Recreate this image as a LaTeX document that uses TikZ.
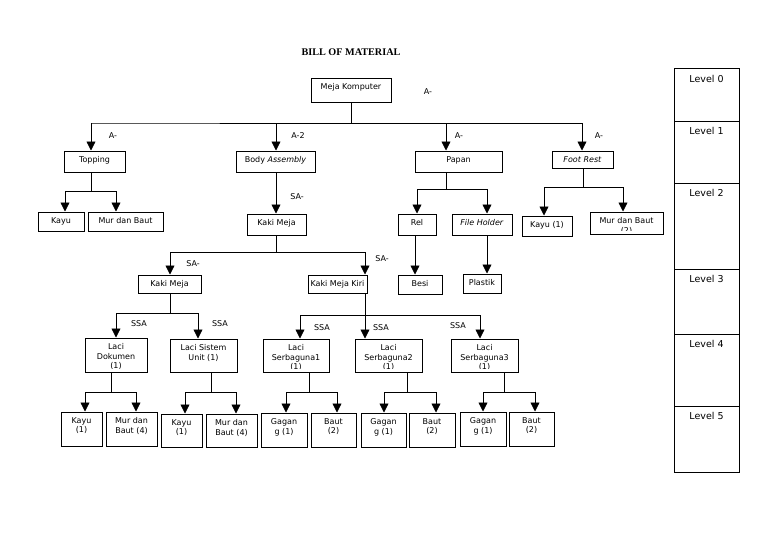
\documentclass[tikz,border=0pt]{standalone}
\usepackage{fontspec}
\setmainfont{DejaVu Sans}
\newfontfamily\titlefont{Liberation Serif}
\usetikzlibrary{arrows.meta}
\begin{document}
\begin{tikzpicture}[x=1pt,y=-1pt,
  partbox/.style={draw,line width=1pt,inner sep=0pt},
  parttext/.style={draw=none,anchor=north,inner sep=0pt,minimum width=0pt,minimum height=0pt,
    align=center,font=\fontsize{8}{9.6}\selectfont},
  leveltext/.style={anchor=north,inner sep=0pt,font=\fontsize{9.5}{11}\selectfont},
  tag/.style={inner sep=0pt,font=\fontsize{8}{9.6}\selectfont},
  link/.style={line width=0.8pt},
  arr/.style={line width=0.8pt,-{Triangle[width=9pt,length=9pt]}}]%
% bill of material tree, page units in px, y grows downwards
\def\bompart#1#2#3#4#5#6{\node[partbox,minimum width={(#4-#2)*1pt},minimum height={(#5-#3)*1pt},
 path picture={\clip ([yshift=3.5pt]path picture bounding box.south west)
  rectangle (path picture bounding box.north east);
  \node[parttext] (#1-t) at ([yshift=-5pt]path picture bounding box.north) {#6};}]
 (#1) at ({(#2+#4)/2},{(#3+#5)/2}) {};}
\def\bomfan#1#2#3#4#5#6#7{\draw[link] (#1.south -| #2,0) -- (#2,#3) (#5,#3) -- (#7,#3);
 \draw[arr] (#5,#3) -- (#4.north -| #5,0);
 \draw[arr] (#7,#3) -- (#6.north -| #7,0);}
\def\bomlevel#1#2#3#4{\node[partbox,minimum width=65pt,minimum height={(#3-#2)*1pt}]
 (#1) at (706.5,{(#2+#3)/2}) {};
 \node[leveltext] (#1-t) at ([yshift=-7pt]#1.north) {#4};}
\useasboundingbox (0,0) rectangle (768,543);
\node[font=\titlefont\bfseries\fontsize{10.2}{12}\selectfont] (title) at (351,52) {BILL OF MATERIAL};
\bompart{meja}{311}{78}{391}{102}{Meja Komputer}
\bompart{topping}{64}{151}{125}{172}{Topping}
\bompart{body}{236}{151}{315}{172}{Body \textit{Assembly}}
\bompart{papan}{415}{151}{502}{172}{Papan}
\bompart{foot}{552}{151}{613}{168}{\textit{Foot Rest}}
\bompart{topkayu}{38}{212}{84}{231}{Kayu}
\bompart{topmur}{88}{212}{163}{231}{Mur dan Baut}
\bompart{kaki}{247}{214}{306}{235}{Kaki Meja}
\bompart{rel}{398}{214}{436}{235}{Rel}
\bompart{holder}{452}{214}{512}{235}{\textit{File Holder}}
\bompart{footkayu}{522}{216}{572}{236}{Kayu (1)}
\bompart{footmur}{590}{212}{663}{234}{Mur dan Baut\\(2)}
\bompart{kakikn}{138}{275}{201}{293}{Kaki Meja}
\bompart{kakikr}{308}{275}{367}{293}{Kaki Meja Kiri}
\bompart{besi}{398}{275}{442}{294}{Besi}
\bompart{plastik}{463}{274}{501}{293}{Plastik}
\bompart{dokumen}{85}{338}{147}{372}{Laci\\Dokumen\\(1)}
\bompart{sistem}{170}{339}{237}{372}{Laci Sistem\\Unit (1)}
\bompart{serb1}{263}{339}{329}{372}{Laci\\Serbaguna1\\(1)}
\bompart{serb2}{355}{339}{422}{372}{Laci\\Serbaguna2\\(1)}
\bompart{serb3}{451}{339}{518}{372}{Laci\\Serbaguna3\\(1)}
\bompart{dokkayu}{61}{412}{102}{446}{Kayu\\(1)}
\bompart{dokmur}{106}{412}{157}{446}{Mur dan\\Baut (4)}
\bompart{siskayu}{161}{414}{202}{447}{Kayu\\(1)}
\bompart{sismur}{206}{414}{257}{447}{Mur dan\\Baut (4)}
\bompart{gag1}{261}{413}{307}{447}{Gagan\\g (1)}
\bompart{baut1}{311}{413}{356}{447}{Baut\\(2)}
\bompart{gag2}{361}{413}{406}{447}{Gagan\\g (1)}
\bompart{baut2}{409}{413}{455}{447}{Baut\\(2)}
\bompart{gag3}{460}{412}{506}{446}{Gagan\\g (1)}
\bompart{baut3}{509}{412}{554}{446}{Baut\\(2)}
\draw[link] (meja.south) |- (91,123) -- (582,123);
\draw[arr] (91,123) -- (topping.north -| 91,0);
\draw[arr] (276,123) -- (body.north -| 276,0);
\draw[arr] (446,123) -- (papan.north -| 446,0);
\draw[arr] (582,123) -- (foot.north -| 582,0);
\bomfan{topping}{91}{191}{topkayu}{65}{topmur}{116}
\draw[arr] (body.south -| 276,0) -- (kaki.north -| 276,0);
\bomfan{papan}{446}{189}{rel}{417}{holder}{487}
\bomfan{foot}{583}{187}{footkayu}{544}{footmur}{623}
\bomfan{kaki}{276}{252}{kakikn}{170}{kakikr}{365}
\draw[arr] (rel.south -| 415,0) -- (besi.north -| 415,0);
\draw[arr] (holder.south -| 487,0) -- (plastik.north -| 487,0);
\bomfan{kakikn}{170}{313}{dokumen}{116}{sistem}{198}
\draw[arr] (kakikr.south -| 365,0) -- (serb2.north -| 365,0);
\draw[link] (300,315) -- (480,315);
\draw[arr] (300,315) -- (serb1.north -| 300,0);
\draw[arr] (480,315) -- (serb3.north -| 480,0);
\bomfan{dokumen}{111}{392}{dokkayu}{85}{dokmur}{136}
\bomfan{sistem}{211}{392}{siskayu}{185}{sismur}{236}
\bomfan{serb1}{309}{392}{gag1}{286}{baut1}{337}
\bomfan{serb2}{407}{392}{gag2}{384}{baut2}{436}
\bomfan{serb3}{504}{392}{gag3}{483}{baut3}{535}
\node[tag] (t0) at (428,92) {A-};
\node[tag] (t1) at (113,136) {A-};
\node[tag] (t2) at (298,136) {A-2};
\node[tag] (t3) at (459,136) {A-};
\node[tag] (t4) at (599,136) {A-};
\node[tag] (t5) at (297,197) {SA-};
\node[tag] (t6) at (193,264) {SA-};
\node[tag] (t7) at (382,259) {SA-};
\node[tag] (t8) at (139,324) {SSA};
\node[tag] (t9) at (220,324) {SSA};
\node[tag] (t10) at (322,328) {SSA};
\node[tag] (t11) at (381,328) {SSA};
\node[tag] (t12) at (458,326) {SSA};
\bomlevel{lv0}{69}{121}{Level 0}
\bomlevel{lv1}{121}{183}{Level 1}
\bomlevel{lv2}{183}{269}{Level 2}
\bomlevel{lv3}{269}{334}{Level 3}
\bomlevel{lv4}{334}{406}{Level 4}
\bomlevel{lv5}{406}{472}{Level 5}
\end{tikzpicture}
\end{document}
